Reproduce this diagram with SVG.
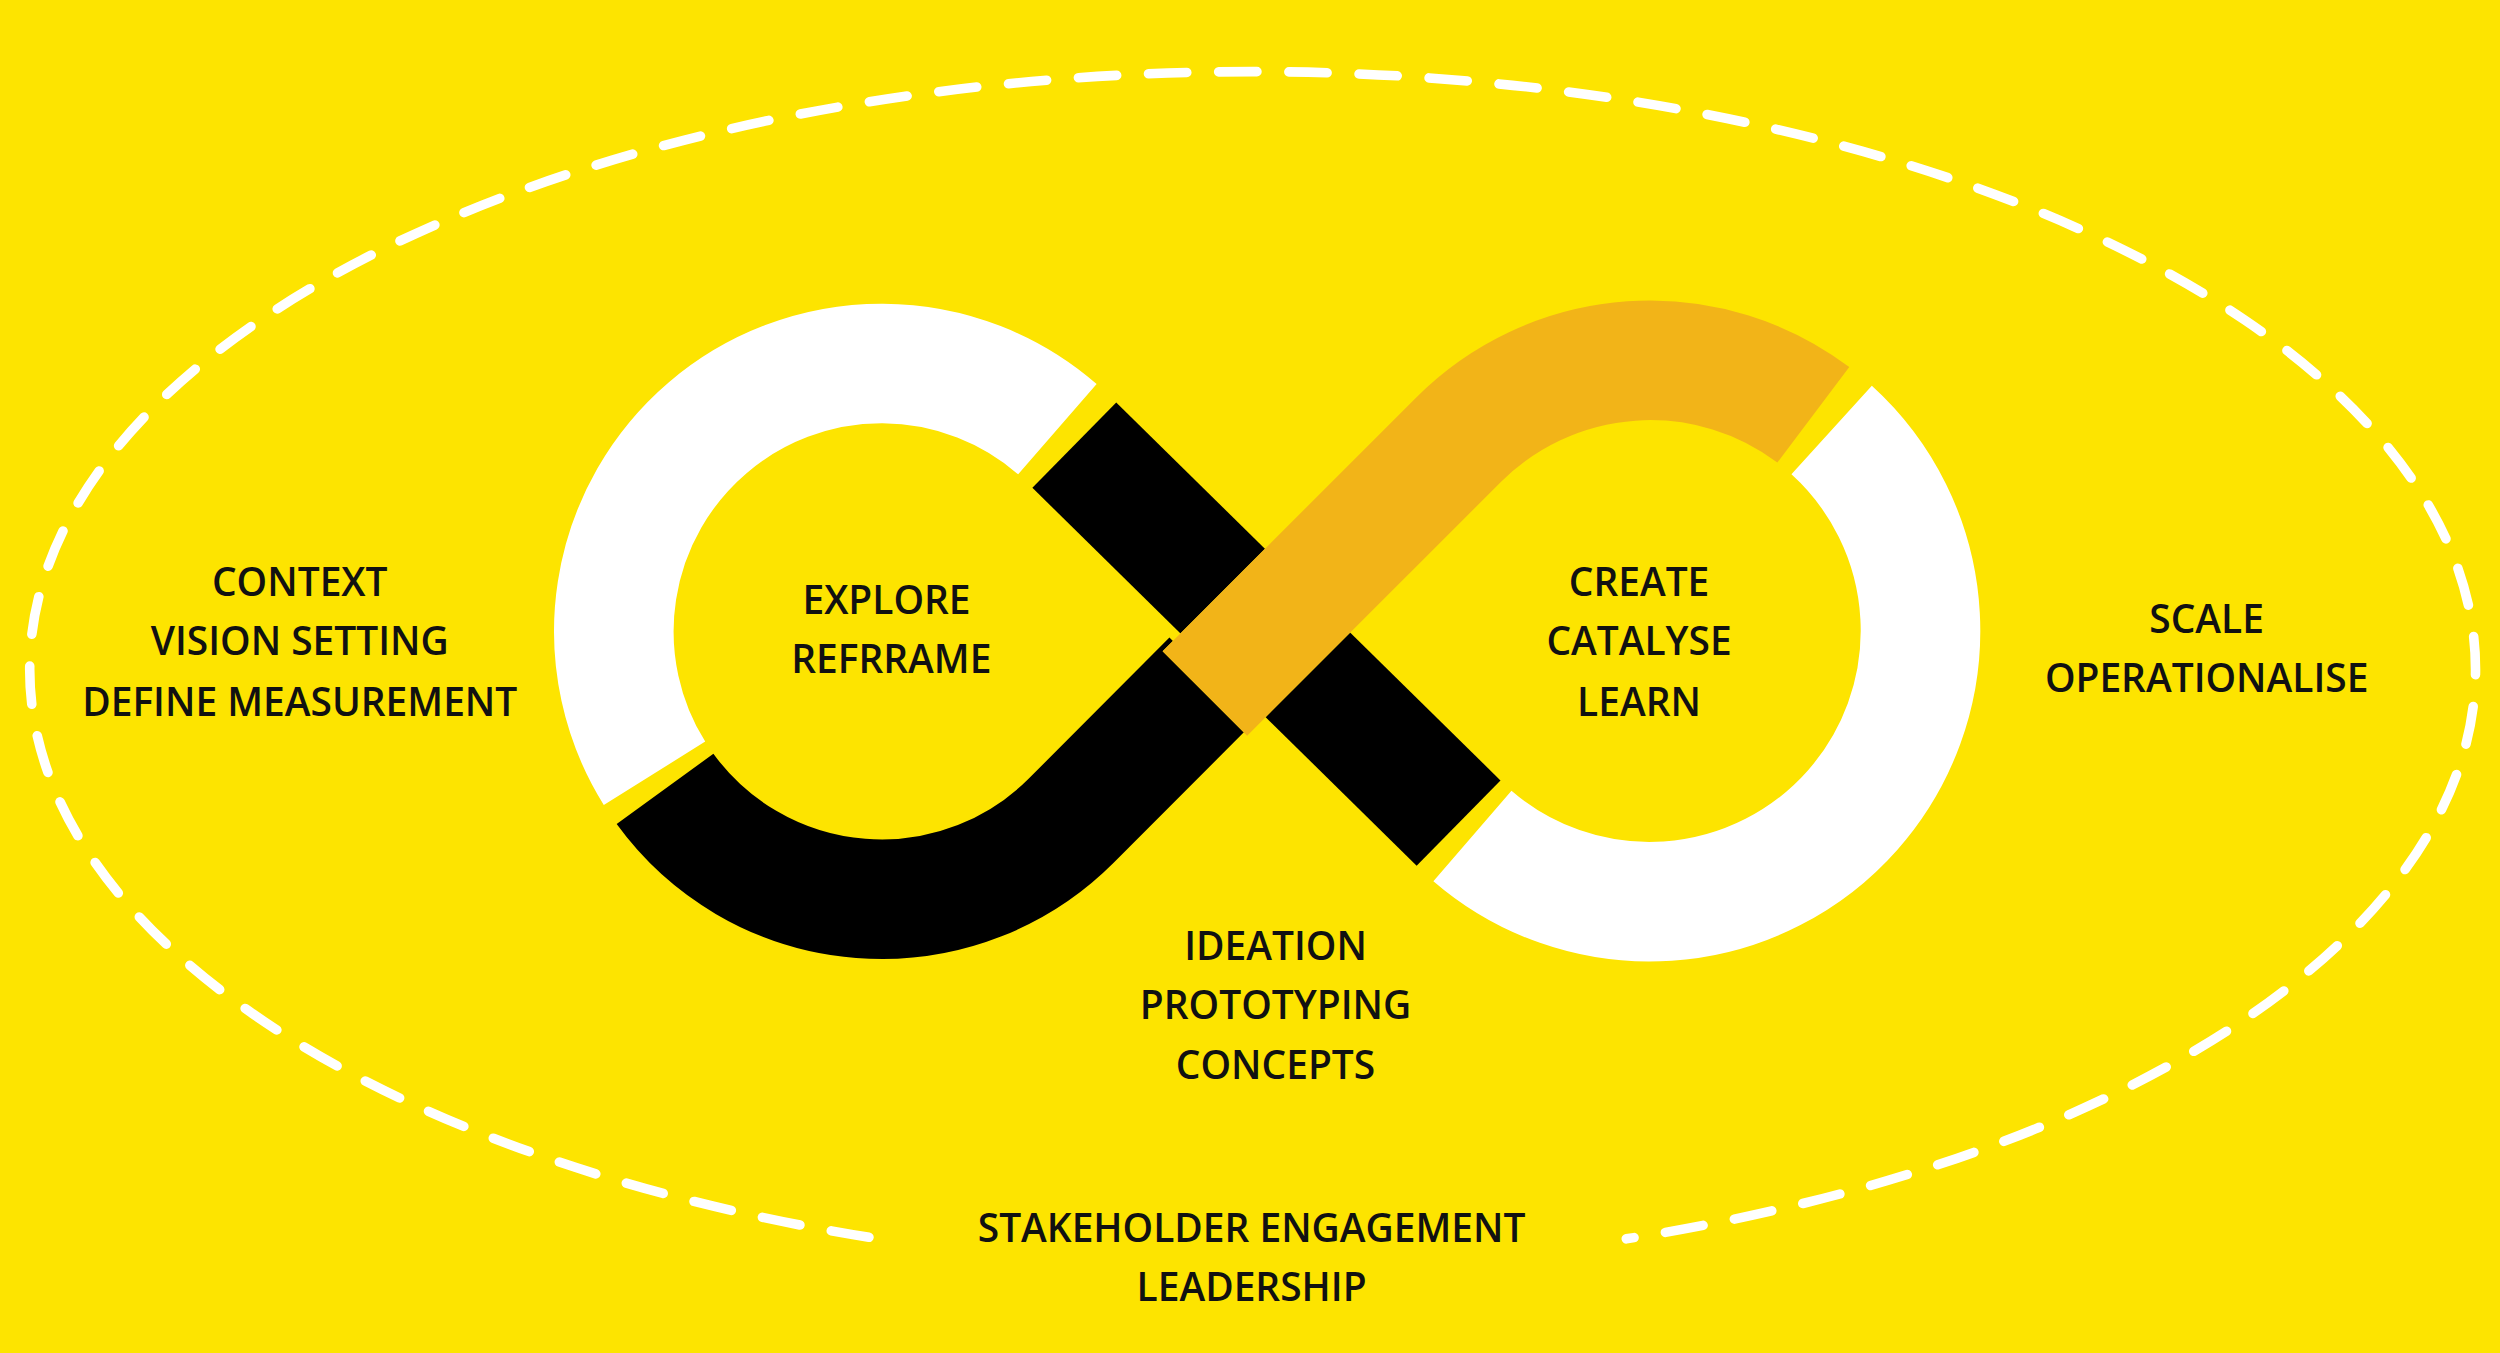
<svg xmlns="http://www.w3.org/2000/svg" width="2500" height="1353" viewBox="0 0 2500 1353">
<style>
.t{font-family:"Open Sans","Liberation Sans",sans-serif;font-weight:600;font-size:24.4px;fill:#111;text-anchor:middle}
.band{fill:none;stroke-width:75;stroke-linecap:butt;stroke-linejoin:round}
</style>
<rect width="2500" height="1353" fill="#FDE400"/>
<g transform="scale(1.5944)">
<g id="boundary">
<path d="M 545 776 A 767 375 0 1 1 1020 777" fill="none" stroke="#fff" stroke-width="6" stroke-dasharray="24 20" stroke-linecap="round"/>
</g>
<g id="connectors">
<path id="white-left" class="band" stroke="#fff" d="M 410.5 485 A 168 168 0 0 1 663.2 269.2"/>
<path id="black-bottom" class="band" stroke="#000" d="M 417.1 494.8 A 168 168 0 0 0 671.8 514.8 L 760 426.4"/>
<path id="black-diag" class="band" stroke="#000" d="M 673.8 279.2 L 914.8 516.2"/>
<path id="white-right" class="band" stroke="#fff" d="M 923.5 524.3 A 170 170 0 0 0 1148.8 269.7"/>
<path class="band" stroke="#FDE400" stroke-width="87" d="M 1137.3 260.2 A 170 170 0 0 0 914.8 275.8 L 755.7 434.9"/>
<path id="orange" class="band" stroke="#F2B418" d="M 1137.3 260.2 A 170 170 0 0 0 914.8 275.8 L 755.7 434.9"/>
</g>
<g id="left-labels"><text class="t" x="188" y="374">CONTEXT</text><text class="t" x="188" y="411">VISION SETTING</text><text class="t" x="188" y="449">DEFINE MEASUREMENT</text></g>
<g id="explore"><text class="t" x="556" y="385">EXPLORE</text><text class="t" x="559" y="422">REFRRAME</text></g>
<g id="create"><text class="t" x="1028" y="374">CREATE</text><text class="t" x="1028" y="411">CATALYSE</text><text class="t" x="1028" y="449">LEARN</text></g>
<g id="scale"><text class="t" x="1384" y="397">SCALE</text><text class="t" x="1384" y="434">OPERATIONALISE</text></g>
<g id="ideation"><text class="t" x="800" y="602">IDEATION</text><text class="t" x="800" y="639">PROTOTYPING</text><text class="t" x="800" y="677">CONCEPTS</text></g>
<g id="stakeholder"><text class="t" x="785" y="779">STAKEHOLDER ENGAGEMENT</text><text class="t" x="785" y="816">LEADERSHIP</text></g>
</g>
</svg>
